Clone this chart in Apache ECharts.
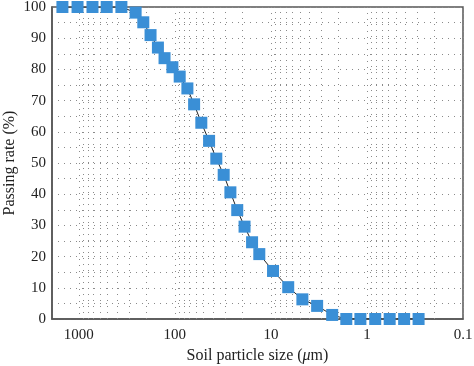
<!DOCTYPE html>
<html><head><meta charset="utf-8">
<script src="https://cdn.jsdelivr.net/npm/echarts@6/dist/echarts.min.js"></script>
<style>html,body{margin:0;padding:0;background:#fff}#c{width:474px;height:366px}</style>
</head><body><div id="c"></div>
<script>
var sizes = [1480, 1030, 720, 512, 360, 256, 213, 179, 150, 128, 106, 89, 74, 63, 53, 44, 37, 31, 26.4, 22.4, 18.8, 15.7, 13.2, 9.5, 6.6, 4.7, 3.3, 2.3, 1.64, 1.17, 0.82, 0.58, 0.41, 0.29];
var passing = [100, 100, 100, 100, 100, 98.2, 95.1, 91.0, 87.0, 83.6, 80.7, 77.7, 73.9, 68.8, 62.9, 57.1, 51.4, 46.2, 40.6, 34.9, 29.6, 24.6, 20.8, 15.4, 10.2, 6.3, 4.2, 1.3, 0, 0, 0, 0, 0, 0];
var xTickLabels = ['1000', '100', '10', '1', '0.1'];
var minorX = [];
[0.1, 1, 10, 100].forEach(function (d) { for (var k = 2; k <= 9; k++) minorX.push(+(d * k).toPrecision(3)); });

var chart = echarts.init(document.getElementById('c'), null, {renderer: 'canvas'});
var serif = '"Liberation Serif", "DejaVu Serif", serif';
var dotStyle = {color: '#8a8a8a', width: 1, type: [1, 5]};
chart.setOption({
  animation: false,
  grid: {left: 52, right: 11, top: 7, bottom: 47, outerBoundsMode: 'none', containLabel: false, show: true, borderColor: '#555', borderWidth: 1.5, backgroundColor: 'transparent'},
  xAxis: {
    type: 'log', logBase: 10, min: 0.1, max: 1900, inverse: true,
    name: '{a|Soil particle size (}{i|μ}{a|m)}', nameLocation: 'middle', nameGap: 26,
    nameTextStyle: {rich: {a: {fontFamily: serif, fontSize: 16, color: '#222'}, i: {fontFamily: serif, fontSize: 16, fontStyle: 'italic', color: '#222'}}},
    axisLine: {show: true, lineStyle: {color: '#555', width: 1.5}},
    axisTick: {show: false},
    axisLabel: {fontFamily: serif, fontSize: 15, color: '#222', margin: 9, showMaxLabel: false,
      formatter: function (v) { var s = String(+v.toPrecision(3)); return xTickLabels.indexOf(s) >= 0 ? s : ''; }},
    splitLine: {show: true, lineStyle: dotStyle}
  },
  yAxis: {
    type: 'value', min: 0, max: 100, interval: 10,
    name: 'Passing rate (%)', nameLocation: 'middle', nameGap: 34, nameMoveOverlap: false,
    nameTextStyle: {fontFamily: serif, fontSize: 16, color: '#222'},
    axisLine: {show: true, lineStyle: {color: '#555', width: 1.5}},
    axisTick: {show: false},
    axisLabel: {fontFamily: serif, fontSize: 15, color: '#222', margin: 6},
    splitLine: {show: true, lineStyle: dotStyle},
    minorTick: {show: false, splitNumber: 2},
    minorSplitLine: {show: true, lineStyle: dotStyle}
  },
  series: [{
    type: 'line',
    data: sizes.map(function (s, i) { return [s, passing[i]]; }),
    symbol: 'rect', symbolSize: 12,
    itemStyle: {color: '#3a8fd6'},
    lineStyle: {color: '#222', width: 1},
    markLine: {
      silent: true, symbol: 'none', label: {show: false},
      lineStyle: dotStyle,
      data: minorX.map(function (v) { return {xAxis: v}; })
    },
    z: 5
  }]
});
</script></body></html>
